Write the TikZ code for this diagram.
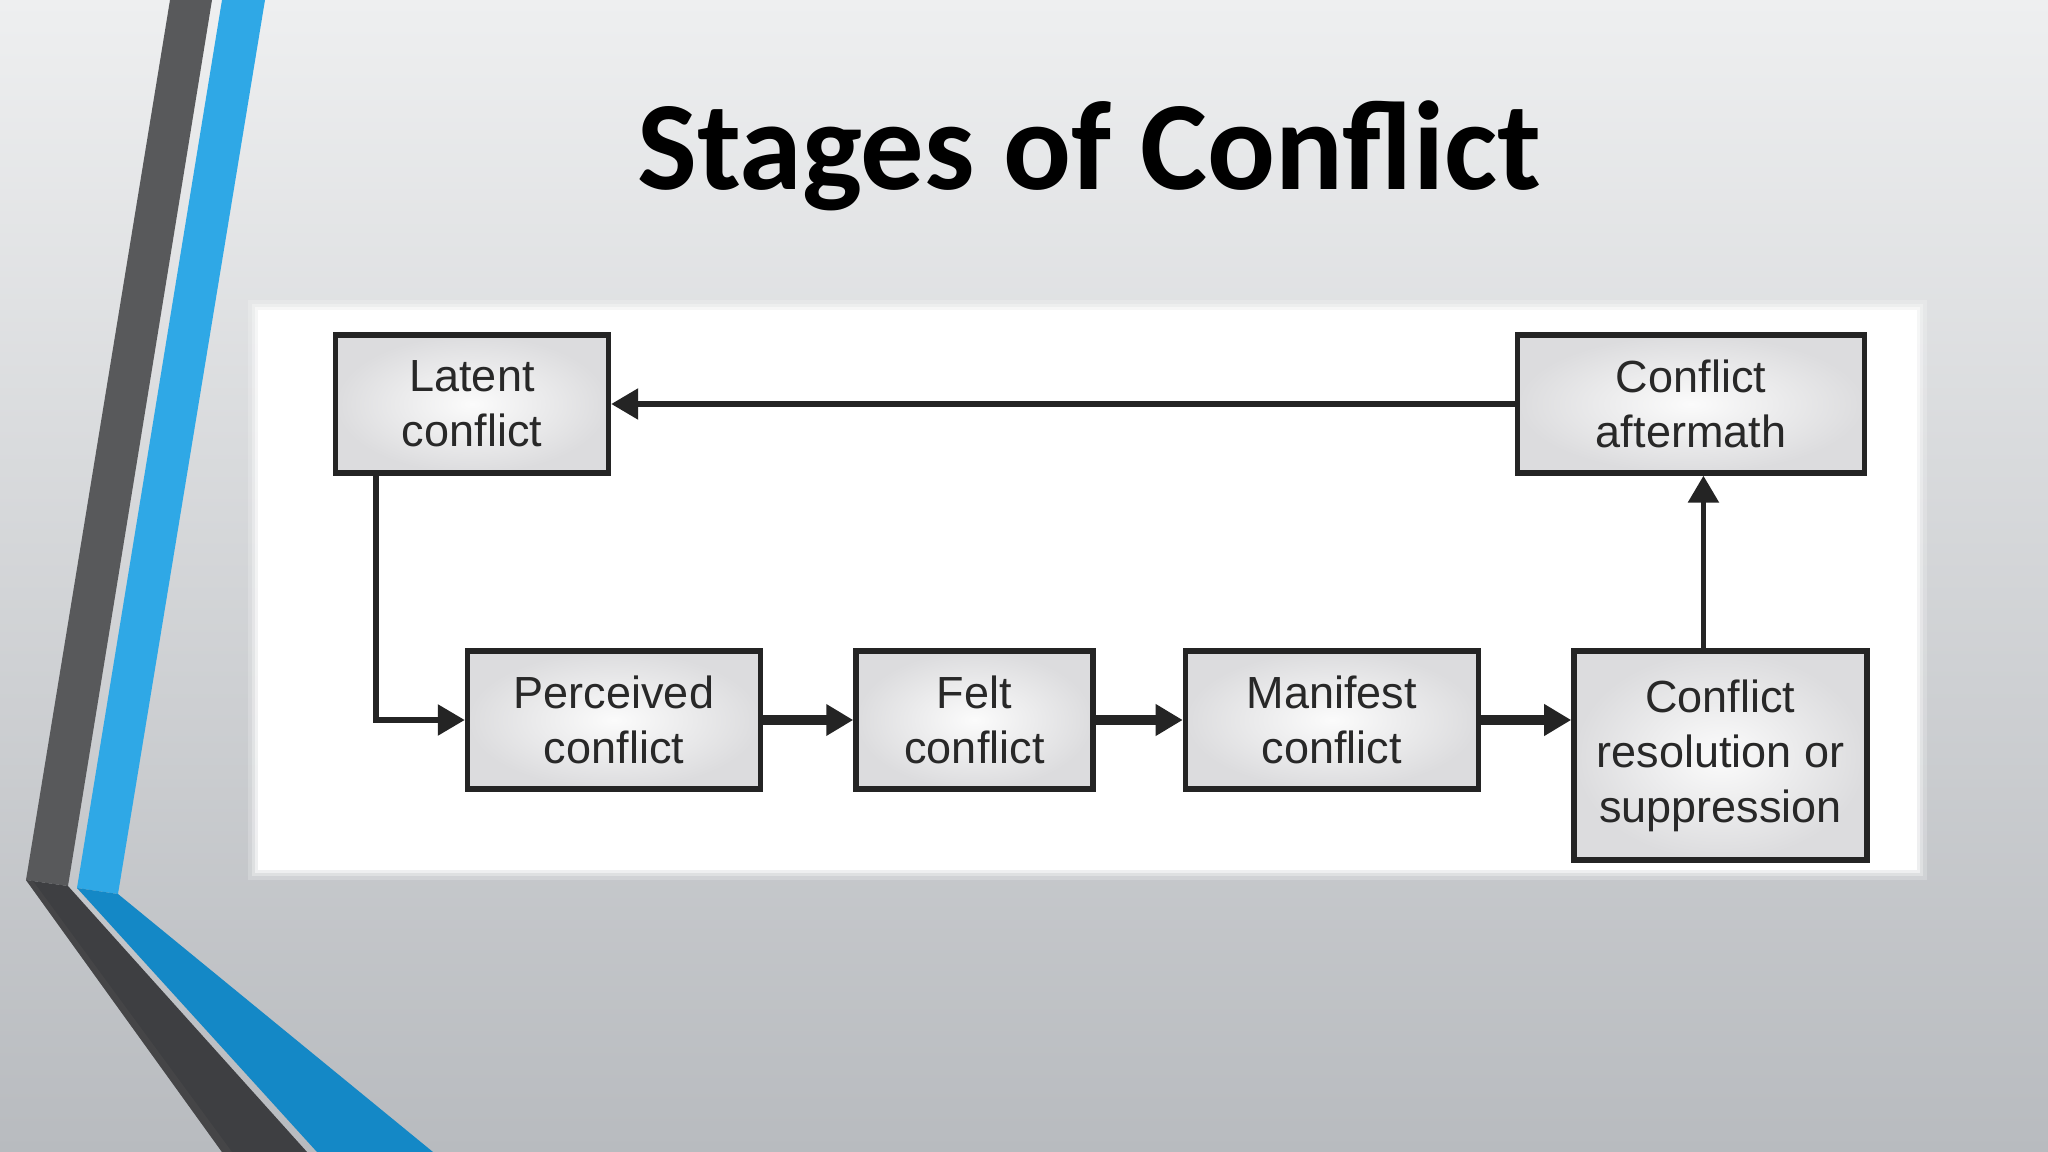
\documentclass[tikz,border=0pt]{standalone}
\usepackage{fontspec}
\setmainfont{Liberation Sans}
\newfontfamily\boxfont{Liberation Sans}
\newfontfamily\titlefont{Carlito}
\usepackage{tikz}
\usetikzlibrary{arrows.meta, positioning, calc}
\usepackage{xcolor}
\definecolor{bgtop}{RGB}{238,239,240}
\definecolor{bgbot}{RGB}{184,187,191}
\definecolor{bandgray}{RGB}{88,89,91}
\definecolor{banddark}{RGB}{62,63,66}
\definecolor{bandblue}{RGB}{47,168,230}
\definecolor{banddeep}{RGB}{20,136,198}
\definecolor{boxline}{RGB}{36,36,36}
\definecolor{boxtext}{RGB}{40,40,40}
\definecolor{boxedge}{RGB}{220,220,222}

\begin{document}
\begin{tikzpicture}[
  x=0.01cm, y=-0.01cm,
  stage/.style={rectangle, draw=boxline, line width=1.5pt,
                inner color=white!97!gray, outer color=boxedge, text=boxtext,
                align=center, inner sep=0pt, minimum height=1.38cm,
                font=\boxfont\fontsize{12.8}{15.6}\selectfont},
  flow/.style={-{Triangle[length=0.27cm, width=0.3cm]}, line width=1.6pt, boxline},
  bigflow/.style={flow, line width=2.8pt},
  heading/.style={font=\titlefont\bfseries\fontsize{36}{40}\selectfont, anchor=base},
  node distance=0.9cm
]
\useasboundingbox (0,0) rectangle (2048,1152);
\shade[top color=bgtop, bottom color=bgbot] (0,0) rectangle (2048,1152);

% Slide bands on the left
\fill[bandgray] (170,0) -- (212,0) -- (68,886) -- (26,880) -- cycle;
\fill[banddark] (26,880) -- (68,886) -- (307,1152) -- (222,1152) -- cycle;
\fill[black!70, opacity=0.5] (26,880) -- (33,881) -- (232,1152) -- (222,1152) -- cycle;
\fill[bandblue] (222,0) -- (265,0) -- (118,894) -- (77,888) -- cycle;
\fill[banddeep] (77,888) -- (118,894) -- (433,1152) -- (317,1152) -- cycle;

% White panel behind the diagram
\foreach \d/\o in {10/0.2, 6/0.3, 3/0.5}
  \fill[white, opacity=\o] (258-\d,310-\d) rectangle (1917+\d,870+\d);
\fill[white] (258,310) rectangle (1917,870);

\node[heading] (title) at (1089,190) {Stages of Conflict};

% Stages
\node[stage, minimum width=2.73cm] (latent) at (472,404) {Latent\\conflict};
\node[stage, minimum width=3.47cm] (aftermath) at (1691,404) {Conflict\\aftermath};
\node[stage, minimum width=2.93cm] (perceived) at (614,720) {Perceived\\conflict};
\node[stage, minimum width=2.37cm, right=of perceived] (felt) {Felt\\conflict};
\node[stage, minimum width=2.93cm, right=0.87cm of felt] (manifest) {Manifest\\conflict};
\node[stage, minimum width=2.93cm, minimum height=2.09cm,
      right=of manifest.north east, anchor=north west] (resolution)
    {Conflict\\resolution or\\suppression};

% Forward flow along the bottom row
\draw[bigflow] (perceived.east) -- (felt.west);
\draw[bigflow] (felt.east) -- (manifest.west);
\draw[bigflow] (manifest.east) -- (manifest.east -| resolution.west);

% Loop back to the start
\draw[flow] ([xshift=0.43cm]latent.south west) |- (perceived.west);
\draw[flow] ([xshift=-0.17cm]resolution.north)
    -- ([xshift=-0.17cm]resolution.north |- aftermath.south);
\draw[flow] (aftermath.west) -- (latent.east);
\end{tikzpicture}
\end{document}
